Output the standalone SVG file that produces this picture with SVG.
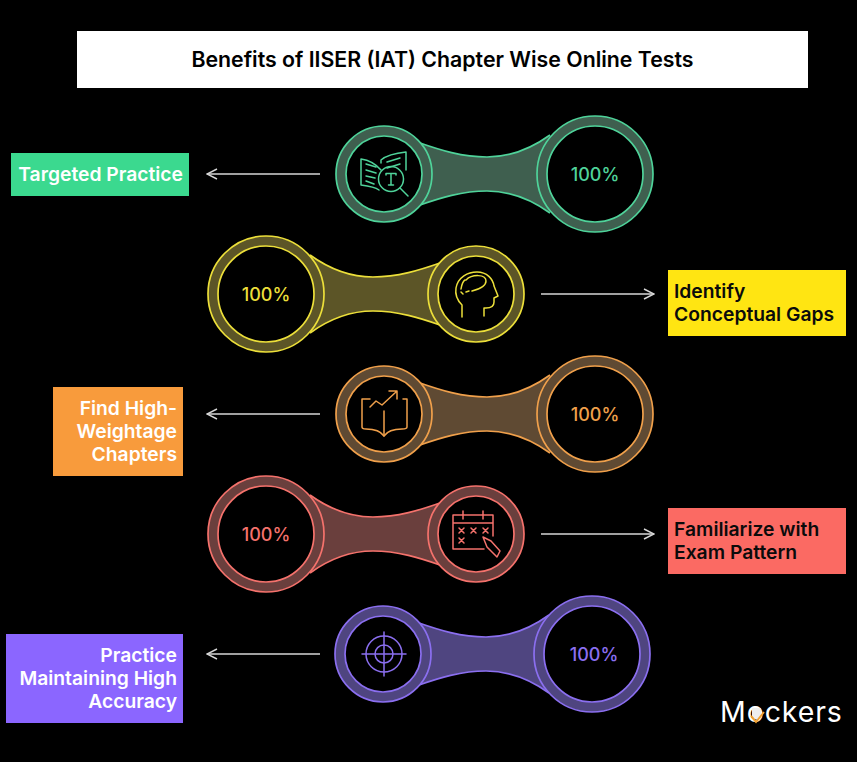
<svg xmlns="http://www.w3.org/2000/svg" width="857" height="762" viewBox="0 0 857 762">
<defs>
<marker id="ah" viewBox="0 0 12 12" refX="11" refY="6" markerWidth="12" markerHeight="12" markerUnits="userSpaceOnUse" orient="auto"><path d="M1 1 L11 6 L1 11" fill="none" stroke="#d6d6d6" stroke-width="1.400"/></marker>
<path id="band" d="M36 -31 C56 -24 78 -17 103 -17 C128 -17 148 -26 166 -39 L166 39 C148 26 128 17 103 17 C78 17 56 24 36 31 Z"/>
<path id="bandedge" d="M36 -31 C56 -24 78 -17 103 -17 C128 -17 148 -26 166 -39 M36 31 C56 24 78 17 103 17 C128 17 148 26 166 39" fill="none"/>
<path id="bandr" d="M44 -39 C62 -26 82 -17 107 -17 C132 -17 154 -24 174 -31 L174 31 C154 24 132 17 107 17 C82 17 62 26 44 39 Z"/>
<path id="bandredge" d="M44 -39 C62 -26 82 -17 107 -17 C132 -17 154 -24 174 -31 M44 39 C62 26 82 17 107 17 C132 17 154 24 174 31" fill="none"/>
</defs>
<style>
.t{font-family:"Inter","Liberation Sans",sans-serif;font-weight:600;font-size:19.300px}
.h{font-size:21.300px}
.p{font-family:"Inter","Liberation Sans",sans-serif;font-weight:500;font-size:18px;text-anchor:middle}
.r{fill:#fff;text-anchor:end}
.k{fill:#0b0b0b}
.i{fill:none;stroke-width:1.500;stroke-linecap:round;stroke-linejoin:round}
.ring{stroke-width:1.700}
.c{stroke:#d6d6d6;stroke-width:1.400;fill:none}
</style>
<rect width="857" height="762" fill="#000"/>
<g id="title"><rect x="77" y="31" width="731" height="57" fill="#fff"/><text x="442.500" y="67" text-anchor="middle" class="t h" fill="#000">Benefits of IISER (IAT) Chapter Wise Online Tests</text></g>
<g id="connectors">
<line class="c" x1="320" y1="174" x2="207" y2="174" marker-end="url(#ah)"/>
<line class="c" x1="541" y1="294" x2="654" y2="294" marker-end="url(#ah)"/>
<line class="c" x1="320" y1="414" x2="207" y2="414" marker-end="url(#ah)"/>
<line class="c" x1="541" y1="534" x2="654" y2="534" marker-end="url(#ah)"/>
<line class="c" x1="320" y1="654" x2="207" y2="654" marker-end="url(#ah)"/>
</g>
<g id="node-targeted-practice">
<rect x="11" y="153" width="178" height="43" fill="#3bd98f"/><text x="183" y="181" class="t r">Targeted Practice</text>
<g transform="translate(384 174)" fill="#3f5f4f" stroke="#4fd39a"><use href="#band" stroke="none"/><use href="#bandedge" class="ring"/></g>
<circle class="ring" cx="595" cy="174" r="58" fill="#3f5f4f" stroke="#4fd39a"/><circle class="ring" cx="595" cy="174" r="48" fill="#000" stroke="#4fd39a"/>
<circle class="ring" cx="384" cy="174" r="48" fill="#3f5f4f" stroke="#4fd39a"/><circle class="ring" cx="384" cy="174" r="38" fill="#000" stroke="#4fd39a"/>
<text x="595" y="181" class="p" fill="#4fd39a">100%</text>
<g class="i" stroke="#4fd39a"><path d="M381 170 C375 163 368 160 361 159 V185 C369 186 375 187 379 190 M381 160 V163 M381 160 C387 155 396 153 406 152 V170"/><path d="M366 164 L376 167 M366 170 L376 173 M366 176 L375 178 M366 181 L374 184 M387 162 L400 158 M387 168 L400 164"/><circle cx="391" cy="179" r="12.500"/><path d="M386 175 V173.500 H396 V175 M391 173.500 V185 M388.500 185 H393.500 M400 188 L408 196"/></g>
</g>
<g id="node-identify-conceptual-gaps">
<rect x="668" y="270" width="178" height="66" fill="#ffe512"/><text class="t k"><tspan x="674" y="298">Identify</tspan><tspan x="674" y="321">Conceptual Gaps</tspan></text>
<g transform="translate(266 294)" fill="#5c5527" stroke="#ecdf3a"><use href="#bandr" stroke="none"/><use href="#bandredge" class="ring"/></g>
<circle class="ring" cx="266" cy="294" r="58" fill="#5c5527" stroke="#ecdf3a"/><circle class="ring" cx="266" cy="294" r="48" fill="#000" stroke="#ecdf3a"/>
<circle class="ring" cx="476" cy="294" r="48" fill="#5c5527" stroke="#ecdf3a"/><circle class="ring" cx="476" cy="294" r="38" fill="#000" stroke="#ecdf3a"/>
<text x="266" y="301" class="p" fill="#ecdf3a">100%</text>
<g class="i" stroke="#ecdf3a"><path d="M462 317 V305 C457 300 455 294 456 288 C458 277 468 272 477 272 C487 272 493 279 494 286 L498 296 L494 298 V302 C494 306 491 308 486 308 H484 V316"/><path d="M461 289 C462 283 463 281 465 280 M466 280 C472 274 486 274 486 281 C486 287 476 290 472 291 M466 292 L469 291 M461 292 L463 294"/></g>
</g>
<g id="node-find-high-weightage-chapters">
<rect x="53" y="387" width="130" height="89" fill="#f89b3c"/><text class="t r"><tspan x="177" y="415">Find High-</tspan><tspan x="177" y="438">Weightage</tspan><tspan x="177" y="461">Chapters</tspan></text>
<g transform="translate(384 414)" fill="#5f4a33" stroke="#f0a04b"><use href="#band" stroke="none"/><use href="#bandedge" class="ring"/></g>
<circle class="ring" cx="595" cy="414" r="58" fill="#5f4a33" stroke="#f0a04b"/><circle class="ring" cx="595" cy="414" r="48" fill="#000" stroke="#f0a04b"/>
<circle class="ring" cx="384" cy="414" r="48" fill="#5f4a33" stroke="#f0a04b"/><circle class="ring" cx="384" cy="414" r="38" fill="#000" stroke="#f0a04b"/>
<text x="595" y="421" class="p" fill="#f0a04b">100%</text>
<g class="i" stroke="#f0a04b"><path d="M370 399 H362 V427 C362 429 364 429 366 429 C373 429 380 430 384 436 C388 430 395 429 402 429 C405 429 407 429 407 427 V399 H403"/><path d="M384 436 V411 M370 407 L376 401 L382 405 L396 392 M389 391 H397 V399"/></g>
</g>
<g id="node-familiarize-with-exam-pattern">
<rect x="668" y="508" width="178" height="66" fill="#fb6a63"/><text class="t k"><tspan x="674" y="536">Familiarize with</tspan><tspan x="674" y="559">Exam Pattern</tspan></text>
<g transform="translate(266 534)" fill="#6a3f3d" stroke="#f5726c"><use href="#bandr" stroke="none"/><use href="#bandredge" class="ring"/></g>
<circle class="ring" cx="266" cy="534" r="58" fill="#6a3f3d" stroke="#f5726c"/><circle class="ring" cx="266" cy="534" r="48" fill="#000" stroke="#f5726c"/>
<circle class="ring" cx="476" cy="534" r="48" fill="#6a3f3d" stroke="#f5726c"/><circle class="ring" cx="476" cy="534" r="38" fill="#000" stroke="#f5726c"/>
<text x="266" y="541" class="p" fill="#f5726c">100%</text>
<g class="i" stroke="#f5726c"><path d="M484 549 H453 V515 H493 V536 M453 523 H493 M463 511 V519 M483 511 V519"/><path d="M459 528 L464 533 M464 528 L459 533 M471 528 L476 533 M476 528 L471 533 M483 528 L488 533 M488 528 L483 533 M459 538 L464 543 M464 538 L459 543"/><path d="M483 537 L491 541 L500 551 L497 557 L487 547 Z"/></g>
</g>
<g id="node-practice-maintaining-high-accuracy">
<rect x="6" y="634" width="177" height="89" fill="#8b66ff"/><text class="t r"><tspan x="177" y="662">Practice</tspan><tspan x="177" y="685">Maintaining High</tspan><tspan x="177" y="708">Accuracy</tspan></text>
<g transform="translate(383 654)" fill="#4f4580" stroke="#8b6ff0"><use href="#band" stroke="none"/><use href="#bandedge" class="ring"/></g>
<circle class="ring" cx="592" cy="654" r="58" fill="#4f4580" stroke="#8b6ff0"/><circle class="ring" cx="592" cy="654" r="48" fill="#000" stroke="#8b6ff0"/>
<circle class="ring" cx="383" cy="654" r="48" fill="#4f4580" stroke="#8b6ff0"/><circle class="ring" cx="383" cy="654" r="38" fill="#000" stroke="#8b6ff0"/>
<text x="594" y="661" class="p" fill="#8b6ff0">100%</text>
<g class="i" stroke="#8b6ff0"><circle cx="384" cy="654" r="18"/><circle cx="384" cy="654" r="9"/><path d="M362 654 H406 M384 632 V676"/></g>
</g>
<g id="logo">
<text x="720" y="722" font-family="Inter,'Liberation Sans',sans-serif" font-weight="400" font-size="28.500" letter-spacing="0.900" fill="#fff">Mockers</text>
<rect x="752" y="708" width="9" height="11" rx="1" fill="#eee"/><path d="M751 716 L756 722 L764 712" fill="none" stroke="#f0a030" stroke-width="2"/>
</g>
</svg>
